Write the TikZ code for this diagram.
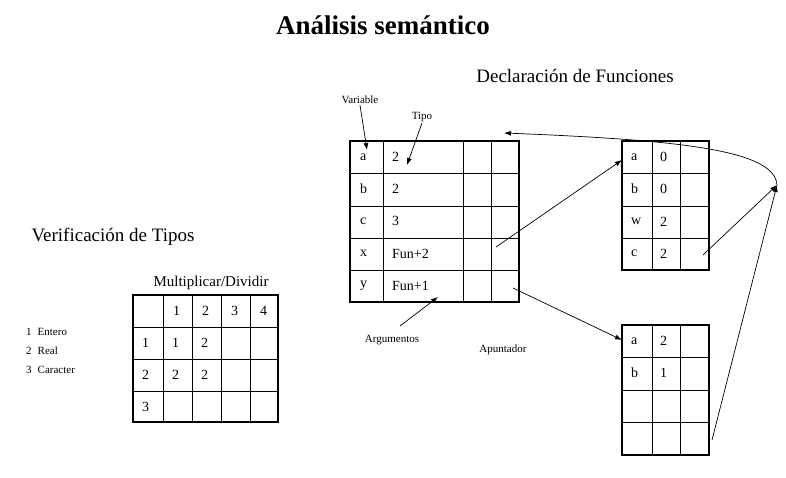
\documentclass[tikz,border=0pt]{standalone}
\usepackage{fontspec}
\setmainfont{Liberation Serif}
\usetikzlibrary{arrows.meta}
\begin{document}
\begin{tikzpicture}[x=1pt,y=-1pt,
  frame/.style={line width=2.2pt},
  grid/.style={line width=0.8pt},
  cell/.style={font=\fontsize{14}{16}\selectfont,anchor=west,inner sep=0pt},
  lbl/.style={font=\fontsize{11}{13}\selectfont,inner sep=1pt},
  arr/.style={-{Latex[length=7pt,width=5pt]},line width=0.7pt}]
\useasboundingbox (0,0) rectangle (786,477);
\node[font=\bfseries\fontsize{27}{30}\selectfont] (title) at (383,25) {Análisis semántico};
\node[font=\fontsize{19}{22}\selectfont] (decl) at (575,76) {Declaración de Funciones};
\node[font=\fontsize{19}{22}\selectfont] (verif) at (113,237) {Verificación de Tipos};
\node[font=\fontsize{15}{18}\selectfont] (mult) at (211,283) {Multiplicar/Dividir};
% main table
\foreach \x in {383,463,491} \draw[grid] (\x,141) -- (\x,302);
\foreach \y in {173,206,238,270} \draw[grid] (350,\y) -- (519,\y);
\draw[frame] (350,141) rectangle (519,302);
\foreach \t/\u [count=\i from 0] in {a/2,b/2,c/3,x/Fun+2,y/Fun+1}{
  \node[cell] (m\i a) at (360,157+32.2*\i) {\t};
  \node[cell] (m\i b) at (392,157+32.2*\i) {\u};}
% table 2
\foreach \x in {652,680} \draw[grid] (\x,141) -- (\x,270);
\foreach \y in {173,206,238} \draw[grid] (622,\y) -- (709,\y);
\draw[frame] (622,141) rectangle (709,270);
\foreach \t/\u [count=\i from 0] in {a/0,b/0,w/2,c/2}{
  \node[cell] (t\i a) at (631,157+32.2*\i) {\t};
  \node[cell] (t\i b) at (660,157+32.2*\i) {\u};}
% table 3
\foreach \x in {652,680} \draw[grid] (\x,325) -- (\x,455);
\foreach \y in {357,390,422} \draw[grid] (622,\y) -- (709,\y);
\draw[frame] (622,325) rectangle (709,455);
\foreach \t/\u [count=\i from 0] in {a/2,b/1}{
  \node[cell] (s\i a) at (631,341+32.2*\i) {\t};
  \node[cell] (s\i b) at (660,341+32.2*\i) {\u};}
% mult table
\foreach \x in {163,192,221,250} \draw[grid] (\x,295) -- (\x,422);
\foreach \y in {327,359,391} \draw[grid] (133,\y) -- (278,\y);
\draw[frame] (133,295) rectangle (278,422);
\foreach \v [count=\i] in {1,2,3,4} \node[cell] (h\i) at (144+29*\i,311) {\v};
\node[cell] (r1) at (142,343) {1}; \node[cell] (c11) at (172,343) {1}; \node[cell] (c12) at (201,343) {2};
\node[cell] (r2) at (142,375) {2}; \node[cell] (c21) at (172,375) {2}; \node[cell] (c22) at (201,375) {2};
\node[cell] (r3) at (142,407) {3};
% legend
\foreach \n/\w [count=\i from 0] in {1/Entero,2/Real,3/Caracter}{
  \node[lbl,anchor=west] (l\i) at (25,332+19*\i) {\n\hspace{6pt}\w};}
% labels
\node[lbl] (var) at (360,100) {Variable};
\node[lbl] (tipo) at (422,117) {Tipo};
\node[lbl] (argu) at (392,340) {Argumentos};
\node[lbl] (apun) at (503,350) {Apuntador};
\coordinate (p1) at (367,150);
\coordinate (p2) at (407,165);
\coordinate (p3) at (438,297);
\coordinate (x1) at (496,247);
\coordinate (y1) at (513,288);
\coordinate (t2in) at (622,160);
\coordinate (t3in) at (622,340);
\coordinate (c2) at (703,255);
\coordinate (b3) at (712,440);
\coordinate (hub) at (777,185);
\coordinate (back) at (504,133);
\draw[arr] (var.south) -- (p1);
\draw[arr] (tipo.south) -- (p2);
\draw[arr] (argu.north) ++(8,-8) -- (p3);
\draw[arr] (x1) -- (t2in);
\draw[arr] (y1) -- (t3in);
\draw[arr] (c2) -- (hub);
\draw[arr] (b3) -- (hub);
\draw[arr] (hub) .. controls (775,150) and (680,140) .. (back);
\end{tikzpicture}
\end{document}
